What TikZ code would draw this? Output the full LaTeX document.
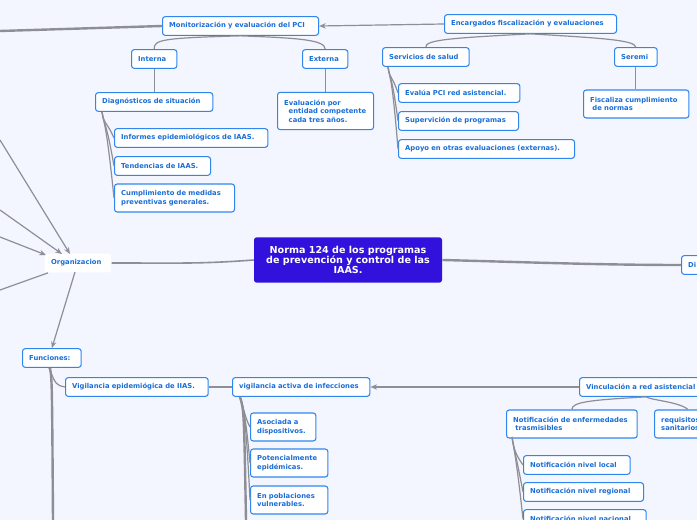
\documentclass[tikz,border=0pt]{standalone}
\usepackage{fontspec}
\setmainfont{DejaVu Sans}
\usetikzlibrary{arrows.meta}
\definecolor{bg}{HTML}{F3F6FE}
\definecolor{bl}{HTML}{2F86EE}
\definecolor{tx}{HTML}{1A6ED8}
\definecolor{ln}{HTML}{8E8E96}
\definecolor{mainc}{HTML}{3311DD}
\tikzset{
 box/.style={draw=bl,line width=0.8pt,fill=white,rounded corners=2pt,text=tx,font=\bfseries\fontsize{5.1}{6.4}\selectfont,anchor=west,minimum height=14pt,inner xsep=5pt,align=left},
 bw/.style={text width=#1-10pt},
 con/.style={draw=ln,line width=0.9pt},
 thick2/.style={draw=ln,line width=1.8pt},
 arr/.style={draw=ln,line width=0.9pt,-{Stealth[length=5pt,width=4pt]}},
}
\begin{document}
\begin{tikzpicture}[x=0.75pt,y=-0.75pt]
\fill[bg] (0,0) rectangle (697,520);
\useasboundingbox (0,0) rectangle (697,520);
% nodes
\node[box,bw=117pt] (mon) at (162,26) {Monitorización y evaluación del PCI};
\node[box,bw=129pt] (enc) at (444,24) {Encargados fiscalización y evaluaciones};
\node[box,bw=34pt] (int) at (131,59) {Interna};
\node[box,bw=34pt] (ext) at (302,59) {Externa};
\node[box,bw=88pt] (diag) at (95,102) {Diagnósticos de situación};
\node[box,bw=72pt,minimum height=28pt] (evp) at (277,111) {Evaluación por\\\ \ entidad competente\\\ \ cada tres años.};
\node[box,bw=115pt] (inf) at (114,138) {Informes epidemiológicos de IAAS.};
\node[box,bw=72pt] (ten) at (114,166) {Tendencias de IAAS.};
\node[box,bw=90pt,minimum height=21pt] (cum) at (114,198) {Cumplimiento de medidas\\preventivas generales.};
\node[box,bw=65pt] (ser) at (382,57) {Servicios de salud};
\node[box,bw=32pt] (sem) at (614,57) {Seremi};
\node[box,bw=91pt] (eva) at (398,93) {Evalúa PCI red asistencial.};
\node[box,bw=90pt] (sup) at (398,121) {Supervición de programas};
\node[box,bw=132pt] (apo) at (398,149) {Apoyo en otras evaluaciones (externas).};
\node[box,bw=79pt,minimum height=21pt] (fis) at (583,104) {Fiscaliza cumplimiento\\\ de normas};
\node[fill=mainc,rounded corners=2pt,text=white,font=\bfseries\fontsize{7.2}{7.8}\selectfont,align=center,minimum width=141pt,minimum height=34pt,inner sep=2pt] (main) at (348,260) {Norma 124 de los programas\\de prevención y control de las\\IAAS.};
\node[box,draw=none,bw=50pt] (org) at (44,263) {Organizacion};
\node[box,bw=30pt] (di) at (681,265) {Di};
\node[box,bw=44pt] (fun) at (22,358) {Funciones:};
\node[box,bw=107pt] (vep) at (65,387) {Vigilancia epidemiógica de IIAS.};
\node[box,bw=103pt] (vac) at (232,387) {vigilancia activa de infecciones};
\node[box,bw=100pt] (vin) at (579,387) {Vinculación a red asistencial};
\node[box,bw=49pt,minimum height=21pt] (aso) at (250,427) {Asociada a\\dispositivos.};
\node[box,bw=58pt,minimum height=21pt] (pot) at (250,463) {Potencialmente\\epidémicas.};
\node[box,bw=58pt,minimum height=21pt] (pob) at (250,500) {En poblaciones\\vulnerables.};
\node[box,bw=98pt,minimum height=21pt] (nen) at (506,424) {Notificación de enfermedades\\\ trasmisibles};
\node[box,bw=50pt,minimum height=21pt] (req) at (654,424) {requisitos\\sanitarios};
\node[box,bw=80pt] (nlo) at (523,465) {Notificación nivel local};
\node[box,bw=90pt] (nre) at (523,492) {Notificación nivel regional};
\node[box,bw=92pt] (nna) at (523,519) {Notificación nivel nacional};
% connectors
\coordinate (l1) at (0,31);
\draw[thick2] (mon.west) -- (l1);
\draw[arr] (enc.west) -- (mon.east);
\draw[con] (mon.south) .. controls (160,38) and (154,40) .. (int.north);
\draw[con] (mon.south) .. controls (300,38) and (325,40) .. (ext.north);
\draw[con] (int.south) -- (diag.north-|int.south);
\draw[con] (ext.south) -- (evp.north-|ext.south);
\foreach \c in {inf,ten,cum}{\draw[con] (102,112) .. controls (104,125) and (106,120) .. (\c.west);}
\draw[con] (enc.south) .. controls (450,38) and (425,40) .. (ser.north);
\draw[con] (enc.south) .. controls (600,38) and (635,40) .. (sem.north);
\draw[con] (sem.south) -- (fis.north-|sem.south);
\foreach \c in {eva,sup,apo}{\draw[con] (388,67) .. controls (390,80) and (392,75) .. (\c.west);}
\draw[thick2] (main.east) .. controls (520,262) and (600,265) .. (di.west);
\draw[con,line width=1.2pt] (org.east) .. controls (180,263) and (200,264) .. (main.west);
\coordinate (a1) at (0,140); \coordinate (a2) at (0,210); \coordinate (a3) at (0,237); \coordinate (a4) at (0,290);
\draw[arr] (a1) -- (70,254);
\draw[arr] (a2) -- (62,254);
\draw[arr] (a3) -- (46,255);
\draw[con] (org.south west) ++(4,0) -- (a4);
\draw[arr] (75,272) -- (fun.north);
\coordinate (fb) at (53,520);
\draw[thick2] (50,368) .. controls (52,380) .. (fb);
\draw[con] (49,368) .. controls (56,385) .. (vep.west);
\draw[con] (vep.east) -- (vac.west);
\draw[arr] (vin.west) -- (vac.east);
\coordinate (vb) at (246,520);
\draw[thick2] (240,397) .. controls (244,410) .. (vb);
\foreach \c in {aso,pot,pob}{\draw[con] (240,397) .. controls (244,410) and (246,420) .. (\c.west);}
\draw[con] (vin.south) .. controls (590,400) and (572,402) .. (nen.north);
\draw[con] (vin.south) .. controls (650,400) and (680,402) .. (req.north);
\foreach \c in {nlo,nre,nna}{\draw[con] (512,437) .. controls (514,450) and (516,455) .. (\c.west);}
\end{tikzpicture}
\end{document}
